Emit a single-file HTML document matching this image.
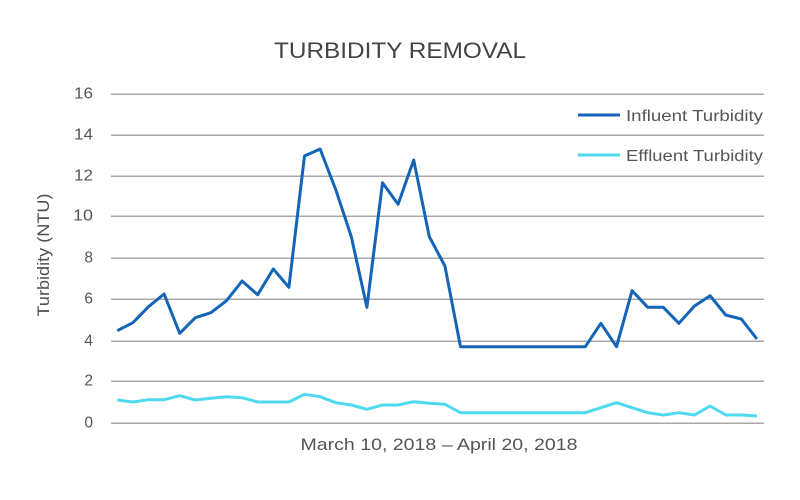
<!DOCTYPE html>
<html>
<head>
<meta charset="utf-8">
<style>
html,body{margin:0;padding:0;background:#fff;}
svg{display:block;}
text{font-family:"Liberation Sans",sans-serif;}
</style>
</head>
<body>
<svg width="800" height="500" viewBox="0 0 800 500" xmlns="http://www.w3.org/2000/svg">
<rect width="800" height="500" fill="#fff"/>
<text x="400" y="58" text-anchor="middle" font-size="22.5" fill="#444" textLength="252" lengthAdjust="spacingAndGlyphs">TURBIDITY REMOVAL</text>
<g stroke="#a8a8a8" stroke-width="1.5">
<line x1="111" x2="764" y1="94.3" y2="94.3"/>
<line x1="111" x2="764" y1="135.3" y2="135.3"/>
<line x1="111" x2="764" y1="176.3" y2="176.3"/>
<line x1="111" x2="764" y1="216.3" y2="216.3"/>
<line x1="111" x2="764" y1="258.3" y2="258.3"/>
<line x1="111" x2="764" y1="299.3" y2="299.3"/>
<line x1="111" x2="764" y1="341.3" y2="341.3"/>
<line x1="111" x2="764" y1="381.3" y2="381.3"/>
<line x1="111" x2="764" y1="423.3" y2="423.3"/>
</g>
<g font-size="15.5" fill="#555" text-anchor="end">
<text x="93" y="98.5" textLength="19" lengthAdjust="spacingAndGlyphs">16</text>
<text x="93" y="139.5" textLength="19" lengthAdjust="spacingAndGlyphs">14</text>
<text x="93" y="180.5" textLength="19" lengthAdjust="spacingAndGlyphs">12</text>
<text x="93" y="220.5" textLength="20" lengthAdjust="spacingAndGlyphs">10</text>
<text x="93" y="262.5">8</text>
<text x="93" y="303.5">6</text>
<text x="93" y="345.5">4</text>
<text x="93" y="385.5">2</text>
<text x="93" y="427.5">0</text>
</g>
<text transform="translate(49,255) rotate(-90)" text-anchor="middle" font-size="16.5" fill="#505050" textLength="123" lengthAdjust="spacingAndGlyphs">Turbidity (NTU)</text>
<text x="439" y="450" text-anchor="middle" font-size="16.5" fill="#555" textLength="277" lengthAdjust="spacingAndGlyphs">March 10, 2018 – April 20, 2018</text>
<polyline fill="none" stroke="#1464b8" stroke-width="3" stroke-linejoin="round" points="117.3,330.7 132.9,322.7 148.5,306.7 164.1,294 179.7,333.3 195.3,317.7 210.9,312.7 226.5,300.7 242.1,281 257.7,294.7 273.3,269 288.9,287.3 304.5,156 320.1,149 335.7,189.5 351.3,236.7 366.9,307.3 382.5,182.7 398.1,204.3 413.7,160 429.3,236.7 444.9,266 460.5,346.7 476.1,346.7 491.7,346.7 507.3,346.7 522.9,346.7 538.5,346.7 554.1,346.7 569.7,346.7 585.3,346.7 600.9,323.3 616.5,346.7 632.1,290.7 647.7,307.3 663.3,307.3 678.9,323.3 694.5,306 710.1,295.7 725.7,315 741.3,319 756.9,339"/>
<polyline fill="none" stroke="#4fd9ef" stroke-width="3" stroke-linejoin="round" points="117.3,400 132.9,402 148.5,399.7 164.1,399.7 179.7,395.7 195.3,400 210.9,398.3 226.5,396.7 242.1,397.7 257.7,402 273.3,402 288.9,402 304.5,394.3 320.1,396.7 335.7,402.7 351.3,405 366.9,409.3 382.5,405 398.1,405 413.7,401.7 429.3,403.3 444.9,404.3 460.5,412.7 476.1,412.7 491.7,412.7 507.3,412.7 522.9,412.7 538.5,412.7 554.1,412.7 569.7,412.7 585.3,412.7 600.9,407.7 616.5,402.7 632.1,407.7 647.7,412.7 663.3,415 678.9,412.7 694.5,415 710.1,406 725.7,415 741.3,415 756.9,416"/>
<line x1="578" x2="620" y1="115" y2="115" stroke="#1464b8" stroke-width="3"/>
<text x="626" y="121" font-size="15.5" fill="#555" textLength="137" lengthAdjust="spacingAndGlyphs">Influent Turbidity</text>
<line x1="578" x2="620" y1="155" y2="155" stroke="#4fd9ef" stroke-width="3"/>
<text x="626" y="161" font-size="15.5" fill="#555" textLength="137" lengthAdjust="spacingAndGlyphs">Effluent Turbidity</text>
</svg>
</body>
</html>
